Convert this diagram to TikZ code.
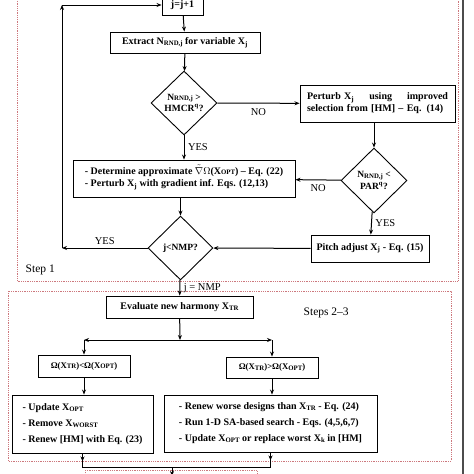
\documentclass[tikz,border=0pt]{standalone}
\usepackage{fontspec}
\setmainfont{Liberation Serif}
\usetikzlibrary{arrows.meta, positioning, shapes.geometric}

\definecolor{zonered}{RGB}{205,120,125}
\newcommand{\smc}[1]{\raisebox{-0.15ex}{\fontsize{6.8}{7}\selectfont #1}}
\newcommand{\ssub}[1]{\textsubscript{#1}}

\begin{document}
\begin{tikzpicture}[
    x=1pt, y=-1pt,
    box/.style={rectangle, draw=black, line width=0.9pt, inner sep=2pt,
                font=\fontsize{10}{12}\selectfont\bfseries},
    listbox/.style={box, align=left, font=\fontsize{10}{16}\selectfont\bfseries},
    test/.style={diamond, draw=black, line width=0.9pt, inner sep=0pt, align=center,
                 font=\fontsize{9.5}{11.5}\selectfont\bfseries},
    arr/.style={-{Stealth[length=5pt, width=4pt]}, line width=1pt},
    zone/.style={draw=zonered, densely dotted, line width=0.8pt},
    lbl/.style={font=\fontsize{10.5}{11}\selectfont, inner sep=1.5pt},
]
\clip (0,0) rectangle (474,474);

% -- dotted step frames and outer line --
\draw[zone] (17,-10) rectangle (458,281);
\draw[zone] (8,291) rectangle (451,461);
\draw[zone] (85,470) rectangle (257,500);
\draw[line width=2.2pt, black!70] (463,-5) -- (463,480);
\node[lbl, anchor=west, font=\fontsize{11.5}{12}\selectfont] (step1) at (24,270) {Step 1};
\node[lbl, anchor=west, font=\fontsize{11.5}{12}\selectfont] (steps23) at (302,313) {Steps 2--3};

% -- Step 1: one variable at a time --
\node[box, minimum width=41pt, minimum height=20pt] (jinc) at (182.5,5) {\raisebox{-2pt}{j=j+1}};
\node[box, minimum width=150pt, minimum height=21pt] (extract) at (185,42.5)
    {Extract N\smc{RND,j} for variable X\ssub{j}};
\node[test, minimum width=66pt, minimum height=64pt] (hmcr) at (184,103)
    {N\smc{RND,j} >\\HMCR\textsuperscript{q}?};
\node[box, text width=141pt, inner xsep=7pt, align=left, minimum height=37pt] (perturb) at (377.5,103.5)
    {Perturb X\ssub{j}\hfill using\hfill improved\\selection from [HM] -- Eq. (14)};
\node[test, minimum width=66pt, minimum height=65pt] (par) at (374,180.5)
    {N\smc{RND,j} <\\PAR\textsuperscript{q}?};
\node[listbox, minimum width=222pt, minimum height=37pt, font=\fontsize{10}{12.5}\selectfont\bfseries] (grad) at (184,178.5)
    {- Determine approximate $\smash{\tilde{\nabla}}\Omega$(X\smc{OPT}) -- Eq. (22)\\
     - Perturb X\ssub{j} with gradient inf. Eqs. (12,13)};
\node[test, minimum width=65pt, minimum height=64pt] (nmp) at (180.5,248) {j<NMP?};
\node[box, minimum width=118pt, minimum height=27pt] (pitch) at (370,248.5)
    {Pitch adjust X\ssub{j} - Eq. (15)};

\coordinate (back) at (62,248);
\coordinate (top) at (62,5);

\draw[arr] (jinc) -- (extract);
\draw[arr] (extract) -- (hmcr);
\draw[arr] (hmcr) -- node[lbl, below=3pt] {NO} (perturb);
\draw[arr] (hmcr) -- node[lbl, right=2pt] {YES} (grad);
\draw[arr] (par |- perturb.south) -- (par);
\draw[arr] (par) -- node[lbl, below=3pt] {NO} (grad);
\draw[arr] (par) -- node[lbl, right=2pt] {YES} (pitch);
\draw[arr] (nmp |- grad.south) -- (nmp);
\draw[arr] (pitch) -- (nmp);
\draw[arr] (nmp) -- node[lbl, above=1pt] {YES} (back);
\draw[arr] (back) -- (top);
\draw[arr] (top) -- (top -| jinc.west);

% -- Steps 2-3: evaluate and update --
\node[box, minimum width=147pt, minimum height=22pt] (eval) at (179.5,307)
    {Evaluate new harmony X\smc{TR}};
\draw[arr] (nmp) -- node[lbl, right=2pt] {j = NMP} (eval);

\node[box, minimum width=92pt, minimum height=22pt, font=\fontsize{8.7}{10}\selectfont\bfseries] (better) at (84,366)
    {Ω(X\smc{TR})<Ω(X\smc{OPT})};
\node[box, minimum width=92pt, minimum height=21pt, font=\fontsize{8.7}{10}\selectfont\bfseries] (worse) at (272,367.5)
    {Ω(X\smc{TR})>Ω(X\smc{OPT})};
\node[listbox, minimum width=141pt, minimum height=58pt] (keep) at (82.5,424)
    {- Update X\smc{OPT}\\- Remove X\smc{WORST}\\- Renew [HM] with Eq. (23)};
\node[listbox, minimum width=213pt, minimum height=57pt] (renew) at (270.5,423.5)
    {- Renew worse designs than X\smc{TR} - Eq. (24)\\
     - Run 1-D SA-based search - Eqs. (4,5,6,7)\\
     - Update X\smc{OPT} or replace worst X\smc{k} in [HM]};

\coordinate (fork) at (180,340);
\coordinate (mrg) at (172,467);
\coordinate (exit) at (172,476);

\draw[arr] (eval) -- (fork);
\draw[{Stealth[length=5pt, width=4pt]}-{Stealth[length=5pt, width=4pt]}, line width=1pt]
    (better |- fork) -- (worse |- fork);
\draw[arr] (better |- fork) -- (better);
\draw[arr] (worse |- fork) -- (worse);
\draw[arr] (better.south) -- (better.south |- keep.north);
\draw[arr] (worse.south) -- (worse.south |- renew.north);
\draw[arr] (keep.south) -- ++(0,8);
\draw[arr] (renew.south) -- ++(0,8);
\draw[line width=1pt] (keep.south) -- (keep.south |- mrg) -- (renew.south |- mrg) -- (renew.south);
\draw[arr] (mrg) -- (exit);
\end{tikzpicture}
\end{document}
